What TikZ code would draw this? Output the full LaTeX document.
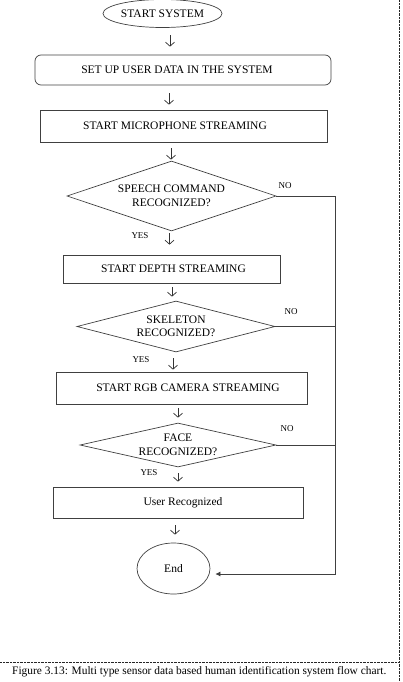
\documentclass[tikz,border=0pt]{standalone}
\usepackage{fontspec}
\setmainfont{Liberation Serif}
\usetikzlibrary{arrows.meta,shapes.geometric}

\begin{document}
\begin{tikzpicture}[
    x=1pt, y=-1pt,
    line/.style={draw=black!75, line width=0.7pt},
    terminal/.style={ellipse, line, inner sep=0pt, font=\fontsize{11.5}{13}\selectfont},
    process/.style={rectangle, line, inner sep=0pt, font=\fontsize{11.5}{13}\selectfont},
    decision/.style={diamond, line, inner sep=0pt, shape aspect=4.4, align=center, font=\fontsize{11.5}{13.5}\selectfont},
    down/.style={-{Straight Barb[length=4pt,width=9pt]}, draw=black!80, line width=0.7pt},
    answer/.style={font=\fontsize{9}{10}\selectfont, inner sep=0pt},
    frame/.style={draw=black!85, line width=0.8pt, dash pattern=on 0.7pt off 0.7pt}
]

\useasboundingbox (0,0) rectangle (403,682);

% Page frame and caption
\draw[frame] (399.5,0) -- (399.5,682);
\draw[frame] (0,662) -- (399.5,662);
\node[font=\fontsize{11.4}{13}\selectfont, inner sep=0pt, anchor=west] (caption) at (12,672) {Figure 3.13: Multi type sensor data based human identification system flow chart.};

% Flow steps
\node[terminal, minimum width=119pt, minimum height=28pt] (start) at (162.5,13.5) {START SYSTEM};
\node[process, rounded corners=6pt, minimum width=296pt, minimum height=30pt] (setup) at (183,70) {SET UP USER DATA IN THE SYSTEM\hspace*{12pt}};
\node[process, minimum width=287pt, minimum height=32pt] (mic) at (183.5,126) {START MICROPHONE STREAMING\hspace*{17pt}};
\node[decision, minimum width=209pt, minimum height=70pt] (speech) at (171.5,196) {SPEECH COMMAND\\RECOGNIZED?};
\node[process, minimum width=217pt, minimum height=28pt] (depth) at (171.5,269) {\hspace*{4pt}START DEPTH STREAMING};
\node[decision, minimum width=198pt, minimum height=51pt] (skeleton) at (176,326.5) {SKELETON\\RECOGNIZED?};
\node[process, minimum width=251pt, minimum height=32pt] (rgb) at (181.5,388) {\hspace*{13pt}START RGB CAMERA STREAMING};
\node[decision, minimum width=196pt, minimum height=44pt] (face) at (178,445) {FACE\\RECOGNIZED?};
\node[process, minimum width=250pt, minimum height=31pt] (user) at (178,502.5) {\hspace*{10pt}User Recognized};
\node[terminal, minimum width=73pt, minimum height=51pt] (stop) at (173.5,568.5) {End};

% Yes / No labels
\node[answer] (no1) at (285,186) {NO};
\node[answer] (no2) at (291,312) {NO};
\node[answer] (no3) at (287,429) {NO};
\node[answer] (yes1) at (140,236) {YES};
\node[answer] (yes2) at (141,360) {YES};
\node[answer] (yes3) at (149,473) {YES};

% Down arrows
\draw[down, shorten <=7.5pt, shorten >=8pt] ([xshift=7.5pt]start.south) -- ([xshift=-13pt]setup.north);
\draw[down, shorten <=8pt, shorten >=5pt] ([xshift=-14pt]setup.south) -- ([xshift=-14.5pt]mic.north);
\draw[down, shorten <=6pt, shorten >=1pt] ([xshift=-12.5pt]mic.south) -- ([xshift=-0.5pt]speech.north);
\draw[down, shorten <=2pt, shorten >=10pt] ([xshift=-2pt]speech.south) -- ([xshift=-2pt]depth.north);
\draw[down, shorten <=4pt, shorten >=4pt] ([xshift=0.5pt]depth.south) -- ([xshift=-4pt]skeleton.north);
\draw[down, shorten <=6pt, shorten >=2pt] ([xshift=-3pt]skeleton.south) -- ([xshift=-8.5pt]rgb.north);
\draw[down, shorten <=4pt, shorten >=5pt] ([xshift=-3.5pt]rgb.south) -- (face.north);
\draw[down, shorten <=6pt, shorten >=5pt] (face.south) -- (user.north);
\draw[down, shorten <=7pt, shorten >=8pt] ([xshift=-3pt]user.south) -- ([xshift=1.5pt]stop.north);

% NO branch back to End
\coordinate (bus) at (335,574);
\draw[line, -{Latex[length=5pt,width=5pt]}, shorten >=5pt] (speech.east) -| (bus) -- (bus -| stop.east);
\draw[line] (skeleton.east) -- (skeleton.east -| bus);
\draw[line] (face.east) -- (face.east -| bus);

\end{tikzpicture}
\end{document}
